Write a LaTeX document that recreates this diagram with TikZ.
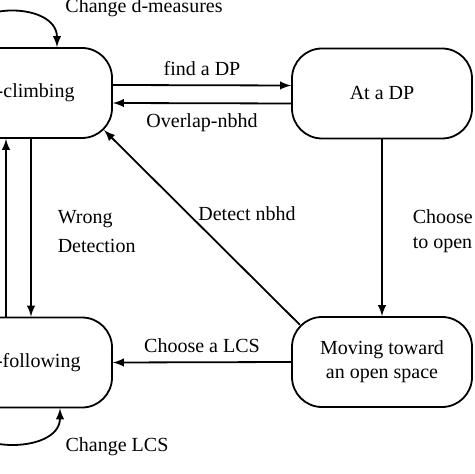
\documentclass[tikz,border=0pt]{standalone}
\usepackage{fontspec}
\setmainfont{Liberation Serif}
\tikzset{
  state/.style = {draw, line width = 0.9pt, rounded corners = 15pt,
    minimum width = 90pt, minimum height = 45pt, align = center},
  trans/.style = {-latex, line width = 0.9pt},
}
\begin{document}
\begin{tikzpicture}[x = 0.5pt, y = -0.5pt]
  % picture frame
  \useasboundingbox (0, 0) rectangle (474, 474);
  \clip (0, 0) rectangle (474, 474);
  % draw states
  \node[state] (hc) at (22, 93) {};
  \node[state] (dp) at (382, 93.5) {At a DP};
  \node[state] (bf) at (22, 362.5) {};
  \node[state] (mv) at (382, 362) {Moving toward\\an open space};
  \node[anchor = east, inner sep = 0] (hctext) at ([xshift = -19pt]hc.east)
  {-climbing};
  \node[anchor = east, inner sep = 0] (bftext) at ([xshift = -16pt]bf.east)
  {-following};
  % draw transitions between states
  \draw[trans] ([yshift = 4pt]hc.east) -- node[above = 1pt] {find a DP}
  ([yshift = 4pt]dp.west);
  \draw[trans] ([yshift = -5pt]dp.west) -- node[below = 1.5pt] {Overlap-nbhd}
  ([yshift = -5pt]hc.east);
  \draw[trans] (dp.south) -- node[right = 11.6pt, yshift = -1.5pt, align = left]
  {Choose\\[0.5pt]to open} (dp.south |- mv.north);
  \draw[trans] (mv.west) -- node[above = 1pt] {Choose a LCS} (bf.east);
  \draw[trans, shorten <= -6.2pt, shorten >= -6.2pt] (mv.north west) --
  node[midway, xshift = 22.5pt, yshift = 7pt] {Detect nbhd} (hc.south east);
  \draw[trans] ([xshift = 4.5pt]hc.south) -- node[right = 9.6pt, yshift = -2pt,
  align = left] {Wrong\\[2.5pt]Detection} ([xshift = 4.5pt]bf.north);
  \draw[trans] ([xshift = -8pt]bf.north) -- ([xshift = -8pt]hc.south);
  % draw self loops
  \draw[trans] ([xshift = -31.5pt]hc.north) .. controls +(0, 23.5pt) and
  +(0, 23.5pt) .. ([xshift = 17.5pt]hc.north);
  \draw[trans] ([xshift = -33pt]bf.south) .. controls +(0, -23.5pt) and
  +(0, -23.5pt) .. ([xshift = 19pt]bf.south);
  \node (cdm) at (144, 8) {Change d-measures};
  \node (clcs) at (117, 447) {Change LCS};
\end{tikzpicture}
\end{document}
